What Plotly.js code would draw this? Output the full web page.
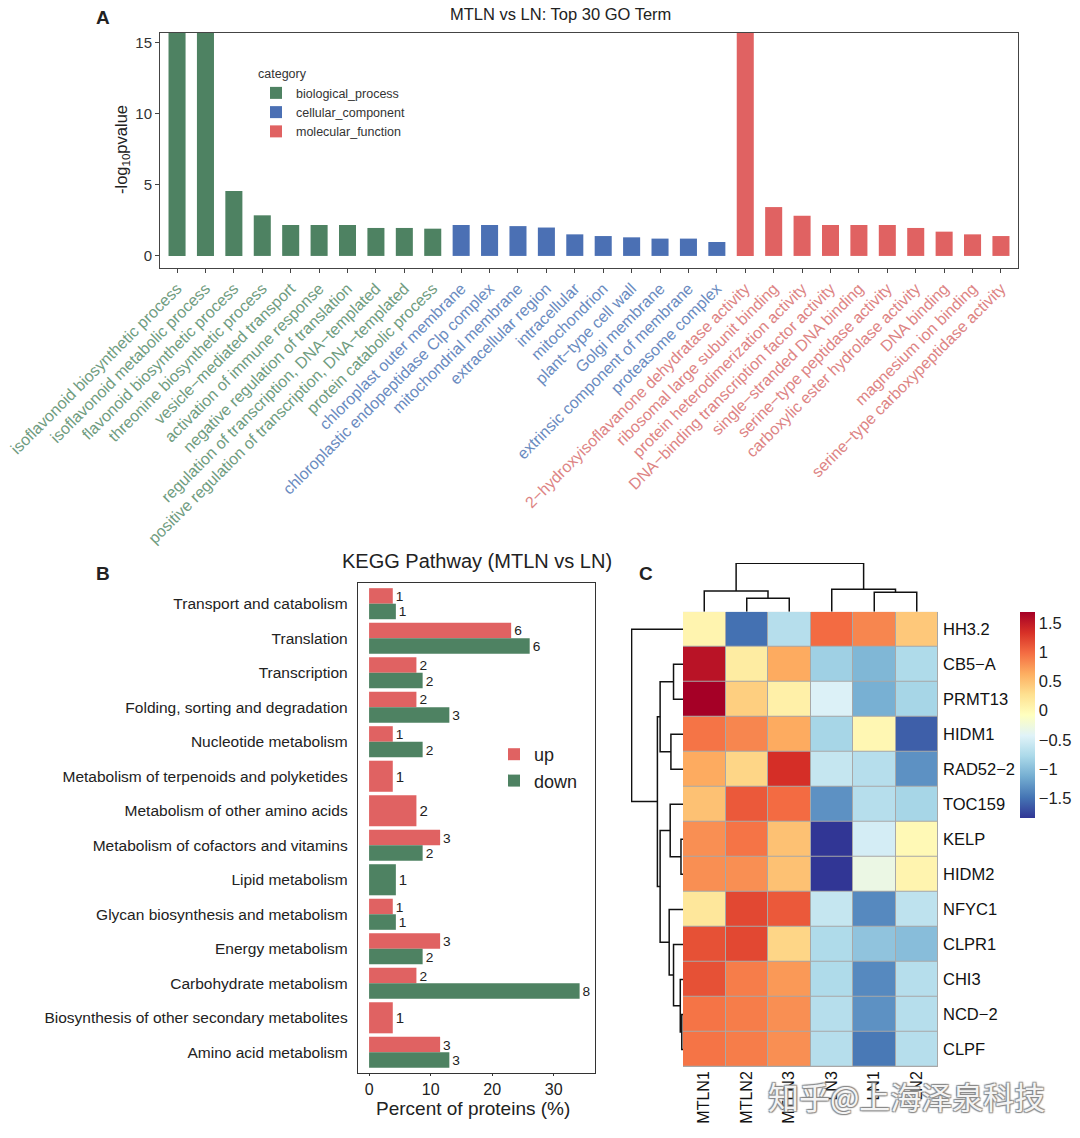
<!DOCTYPE html>
<html><head><meta charset="utf-8">
<script src="https://cdn.plot.ly/plotly-3.0.1.min.js"></script>
<style>html,body{margin:0;padding:0;background:#fff}#chart{width:1080px;height:1138px}</style>
</head><body><div id="chart"></div>
<script>
// ---------- Panel A: GO terms ----------
const goBP = ["isoflavonoid biosynthetic process","isoflavonoid metabolic process","flavonoid biosynthetic process","threonine biosynthetic process","vesicle−mediated transport","activation of immune response","negative regulation of translation","regulation of transcription, DNA−templated","positive regulation of transcription, DNA−templated","protein catabolic process"];
const goBPvals = [18, 18, 4.57, 2.86, 2.18, 2.18, 2.18, 1.97, 1.97, 1.92];
const goCC = ["chloroplast outer membrane","chloroplastic endopeptidase Clp complex","mitochondrial membrane","extracellular region","intracellular","mitochondrion","plant−type cell wall","Golgi membrane","extrinsic component of membrane","proteasome complex"];
const goCCvals = [2.18, 2.18, 2.1, 2.0, 1.52, 1.4, 1.31, 1.22, 1.22, 0.98];
const goMF = ["2−hydroxyisoflavanone dehydratase activity","ribosomal large subunit binding","protein heterodimerization activity","DNA−binding transcription factor activity","single−stranded DNA binding","serine−type peptidase activity","carboxylic ester hydrolase activity","DNA binding","magnesium ion binding","serine−type carboxypeptidase activity"];
const goMFvals = [18, 3.44, 2.83, 2.18, 2.18, 2.18, 1.97, 1.71, 1.52, 1.4];
const goTicks = [0, 5, 10, 15];

// ---------- Panel B: KEGG ----------
const keggCats = ["Transport and catabolism","Translation","Transcription","Folding, sorting and degradation","Nucleotide metabolism","Metabolism of terpenoids and polyketides","Metabolism of other amino acids","Metabolism of cofactors and vitamins","Lipid metabolism","Glycan biosynthesis and metabolism","Energy metabolism","Carbohydrate metabolism","Biosynthesis of other secondary metabolites","Amino acid metabolism"];
const upPct   = [3.85, 23.08, 7.69, 7.69, 3.85, 3.85, 7.69, 11.54, null, 3.85, 11.54, 7.69, 3.85, 11.54];
const upCount = [1, 6, 2, 2, 1, 1, 2, 3, null, 1, 3, 2, 1, 3];
const downPct   = [4.35, 26.09, 8.7, 13.04, 8.7, null, null, 8.7, 4.35, 4.35, 8.7, 34.2, null, 13.04];
const downCount = [1, 6, 2, 3, 2, null, null, 2, 1, 1, 2, 8, null, 3];

// ---------- Panel C: heatmap ----------
const heatCols = ["MTLN1","MTLN2","MTLN3","LN3","LN1","LN2"];
const heatRows = ["HH3.2","CB5−A","PRMT13","HIDM1","RAD52−2","TOC159","KELP","HIDM2","NFYC1","CLPR1","CHI3","NCD−2","CLPF"];
const heatZ = [
  [0.05, -1.5, -0.7, 1.0, 0.85, 0.45],
  [1.55, 0.15, 0.65, -0.85, -1.05, -0.75],
  [1.69, 0.4, 0.1, -0.45, -1.1, -0.8],
  [0.95, 0.85, 0.65, -0.8, 0.02, -1.6],
  [0.65, 0.35, 1.35, -0.6, -0.7, -1.3],
  [0.5, 1.1, 1.0, -1.3, -0.7, -0.8],
  [0.8, 0.95, 0.5, -1.83, -0.5, 0.0],
  [0.8, 0.8, 0.5, -1.83, -0.3, 0.05],
  [0.2, 1.2, 1.1, -0.6, -1.35, -0.65],
  [1.15, 1.2, 0.35, -0.75, -0.95, -1.0],
  [1.15, 0.9, 0.75, -0.75, -1.35, -0.7],
  [0.95, 0.9, 0.8, -0.7, -1.3, -0.7],
  [0.95, 0.9, 0.8, -0.7, -1.45, -0.7]
];
// hierarchical clustering merges: [childA, childB, height]; leaves 0..n-1, merge k = n+k
const colMerges = [[1,2,13.3],[4,5,19.3],[0,6,20.7],[3,7,22.3],[8,9,48.3]];
const rowMerges = [[1,2,9.4],[3,4,12.0],[13,14,22.7],[6,7,2.0],[5,16,12.7],[11,12,1.2],[10,18,2.7],[9,19,9.4],[8,20,13.7],[17,21,22.7],[15,22,25.4],[0,23,51.0]];

// ---------- styling ----------
const FONT = "Liberation Sans, Arial, Helvetica, sans-serif";
const cGreen = "#4e8262", cBlue = "#4b70b4", cRed = "#e06262";
const tGreen = "#6f9c80", tBlue = "#6a8bbf", tRed = "#dd8484";
const W = 1080, H = 1138;
const px = v => v / W, py = v => (H - v) / H;

const allLabels = [], allColors = [];
goBP.forEach(l => {allLabels.push(l); allColors.push(tGreen);});
goCC.forEach(l => {allLabels.push(l); allColors.push(tBlue);});
goMF.forEach(l => {allLabels.push(l); allColors.push(tRed);});
const goTickText = allLabels.map((l, i) => '<span style="color:' + allColors[i] + '">' + l + '</span>');
const goIdx = allLabels.map((_, i) => i);

const traces = [];
traces.push({type:'bar', name:'biological_process', x: goBP.map((_, i) => i), y: goBPvals, width:0.6, marker:{color:cGreen}, xaxis:'x', yaxis:'y', legend:'legend', hoverinfo:'skip'});
traces.push({type:'bar', name:'cellular_component', x: goCC.map((_, i) => i + goBP.length), y: goCCvals, width:0.6, marker:{color:cBlue}, xaxis:'x', yaxis:'y', legend:'legend', hoverinfo:'skip'});
traces.push({type:'bar', name:'molecular_function', x: goMF.map((_, i) => i + goBP.length + goCC.length), y: goMFvals, width:0.6, marker:{color:cRed}, xaxis:'x', yaxis:'y', legend:'legend', hoverinfo:'skip'});

// KEGG bars with dodge that preserves full width for single bars
const kIdx = keggCats.map((_, i) => i);
const both = kIdx.map(i => upPct[i] != null && downPct[i] != null);
traces.push({type:'bar', orientation:'h', name:'up', y:kIdx, x:upPct,
  offset: kIdx.map(i => -0.45), width: kIdx.map(i => both[i] ? 0.45 : 0.9),
  text: upCount.map(c => c == null ? '' : String(c)), textposition:'outside', cliponaxis:false,
  textfont:{size:15, color:'#222', family:FONT}, marker:{color:cRed},
  xaxis:'x2', yaxis:'y2', legend:'legend2', hoverinfo:'skip'});
traces.push({type:'bar', orientation:'h', name:'down', y:kIdx, x:downPct,
  offset: kIdx.map(i => both[i] ? 0 : -0.45), width: kIdx.map(i => both[i] ? 0.45 : 0.9),
  text: downCount.map(c => c == null ? '' : String(c)), textposition:'outside', cliponaxis:false,
  textfont:{size:15, color:'#222', family:FONT}, marker:{color:cGreen},
  xaxis:'x2', yaxis:'y2', legend:'legend2', hoverinfo:'skip'});

// heatmap
const rdylbu = ["#313695","#4575b4","#74add1","#abd9e9","#e0f3f8","#ffffbf","#fee090","#fdae61","#f46d43","#d73027","#a50026"];
traces.push({type:'heatmap', z: heatZ, x: heatCols.map((_, i) => i), y: heatRows.map((_, i) => i),
  colorscale: rdylbu.map((c, i) => [i / (rdylbu.length - 1), c]), xgap:1, ygap:1,
  xaxis:'x3', yaxis:'y3', hoverinfo:'skip',
  colorbar:{x:px(1020), xanchor:'left', y:py(611.7), yanchor:'top', len:(818-611.7)/H, lenmode:'fraction',
    thickness:15, outlinewidth:0, xpad:0, ypad:0, ticks:'', dtick:0.5, tick0:0,
    tickfont:{size:16.5, color:'#222', family:FONT}}});

// dendrograms
function dendro(merges, n) {
  const pos = [], ht = [], p = [], h = [];
  for (let i = 0; i < n; i++) { pos[i] = i; ht[i] = 0; }
  merges.forEach((m, k) => {
    const [a, b, hh] = m, id = n + k;
    pos[id] = (pos[a] + pos[b]) / 2; ht[id] = hh;
    p.push(pos[a], pos[a], pos[b], pos[b], null);
    h.push(ht[a], hh, hh, ht[b], null);
  });
  return {p, h};
}
const cd = dendro(colMerges, heatCols.length);
traces.push({type:'scatter', mode:'lines', x:cd.p, y:cd.h, line:{color:'#111', width:1.5}, xaxis:'x4', yaxis:'y4', showlegend:false, hoverinfo:'skip'});
const rd = dendro(rowMerges, heatRows.length);
traces.push({type:'scatter', mode:'lines', x:rd.h, y:rd.p, line:{color:'#111', width:1.5}, xaxis:'x5', yaxis:'y5', showlegend:false, hoverinfo:'skip'});

const heatX = [px(683), px(938)];
const heatY = [py(1067), py(611.7)];

function ann(text, x, y, size, extra) {
  return Object.assign({text, xref:'paper', yref:'paper', x:px(x), y:py(y), xanchor:'center', yanchor:'middle',
    showarrow:false, font:{size, color:'#222', family:FONT}}, extra || {});
}

const layout = {
  width: W, height: H,
  margin:{l:0, r:0, t:0, b:0, autoexpand:false},
  paper_bgcolor:'#fff', plot_bgcolor:'rgba(0,0,0,0)',
  font:{family:FONT, color:'#222'},
  barmode:'overlay',
  showlegend:true,
  xaxis:{domain:[px(160), px(1018)], anchor:'y', range:[-0.6, 29.6], tickvals:goIdx, ticktext:goTickText,
    tickangle:-45, tickfont:{size:16, family:FONT}, showline:true, mirror:true, linecolor:'#444', linewidth:1,
    ticks:'outside', ticklen:4, tickcolor:'#444', showgrid:false, zeroline:false},
  yaxis:{domain:[py(268), py(33)], anchor:'x', range:[-0.85, 15.7], tickvals:goTicks,
    tickfont:{size:15, color:'#333'}, showline:true, mirror:true, linecolor:'#444', linewidth:1,
    ticks:'outside', ticklen:4, tickcolor:'#444', showgrid:false, zeroline:false},
  xaxis2:{domain:[px(358), px(595)], anchor:'y2', range:[-1.8, 36.7], dtick:10, tick0:0,
    tickfont:{size:16, color:'#222'}, showline:true, mirror:true, linecolor:'#333', linewidth:1.2,
    ticks:'outside', ticklen:2, tickcolor:'#333', ticklabelstandoff:0, showgrid:false, zeroline:false},
  yaxis2:{domain:[py(1073), py(583)], anchor:'x2', range:[13.6, -0.6], tickvals:kIdx, ticktext:keggCats,
    tickfont:{size:15.5, color:'#222'}, showline:true, mirror:true, linecolor:'#333', linewidth:1.2,
    ticks:'', ticklabelstandoff:6, showgrid:false, zeroline:false},
  xaxis3:{domain:heatX, anchor:'y3', range:[-0.5, 5.5], tickvals:heatCols.map((_, i) => i), ticktext:heatCols,
    tickangle:-90, tickfont:{size:16, color:'#111'}, ticks:'', showgrid:false, zeroline:false, showline:false},
  yaxis3:{domain:heatY, anchor:'x3', range:[12.5, -0.5], side:'right', tickvals:heatRows.map((_, i) => i), ticktext:heatRows,
    tickfont:{size:16.5, color:'#111'}, ticks:'', ticklabelstandoff:4, showgrid:false, zeroline:false, showline:false},
  xaxis4:{domain:heatX, anchor:'y4', range:[-0.5, 5.5], visible:false},
  yaxis4:{domain:[py(611.7), py(563)], anchor:'x4', range:[0, 48.6], visible:false},
  xaxis5:{domain:[px(631), px(683)], anchor:'y5', range:[51.6, 0], visible:false},
  yaxis5:{domain:heatY, anchor:'x5', range:[12.5, -0.5], visible:false},
  legend:{x:px(256), y:py(62), xanchor:'left', yanchor:'top', bgcolor:'rgba(0,0,0,0)',
    title:{text:'category', font:{size:12.5, color:'#333'}}, font:{size:12.5, color:'#333'},
    tracegroupgap:0, itemwidth:30, traceorder:'normal'},
  legend2:{x:px(494), y:py(736), xanchor:'left', yanchor:'top', bgcolor:'rgba(0,0,0,0)',
    font:{size:18, color:'#222'}, tracegroupgap:0, itemwidth:30, traceorder:'normal'},
  shapes:[{type:'rect', xref:'x3', yref:'y3', x0:-0.5, x1:5.5, y0:-0.5, y1:12.5, fillcolor:'#a8a8a8', line:{width:0}, layer:'below'}],
  annotations:[
    ann('MTLN vs LN: Top 30 GO Term', 560, 14, 16.5),
    ann('-log<sub>10</sub>pvalue', 122, 150, 16.5, {textangle:-90}),
    ann('<b>A</b>', 103, 18, 19),
    ann('KEGG Pathway (MTLN vs LN)', 477, 561, 20),
    ann('<b>B</b>', 103, 573, 19),
    ann('Percent of proteins (%)', 473, 1108, 19),
    ann('<b>C</b>', 646, 573, 19),
    ann('知乎@上海泽泉科技', 906, 1095, 31, {font:{size:31, family:'Noto Sans CJK SC', color:'rgba(255,255,255,0.92)',
      shadow:'1px 1px 1px #888, -1px -1px 1px #888, 1px -1px 1px #888, -1px 1px 1px #888'}})
  ]
};
Plotly.newPlot('chart', traces, layout, {staticPlot:true, displayModeBar:false});
</script>
</body></html>
